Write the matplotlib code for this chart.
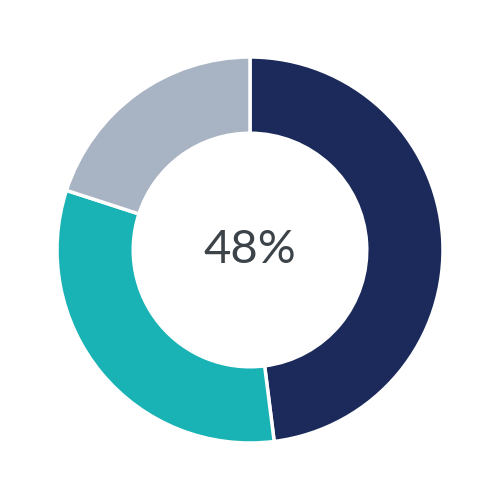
import matplotlib
matplotlib.use("Agg")
import matplotlib.pyplot as plt

labels = ["A", "B", "C"]
values = [48, 32, 20]
colors = ["#1b2a5a", "#1ab3b5", "#a8b3c3"]
center_text = "48%"

fig = plt.figure(figsize=(5, 5), dpi=100)
ax = fig.add_axes([0, 0, 1, 1])
ax.pie(values, colors=colors, startangle=90, counterclock=False, radius=1.0,
       wedgeprops=dict(width=0.395, edgecolor="white", linewidth=2.5))
ax.text(0, 0, center_text, ha="center", va="center", fontsize=34,
        color="#3d4449", family=["Lato", "DejaVu Sans"], fontweight="normal")
lim = 250 / 193
ax.set_xlim(-lim, lim)
ax.set_ylim(-lim, lim)
ax.set_aspect("equal")
ax.axis("off")
fig.savefig("out.png", dpi=100, facecolor="white")
